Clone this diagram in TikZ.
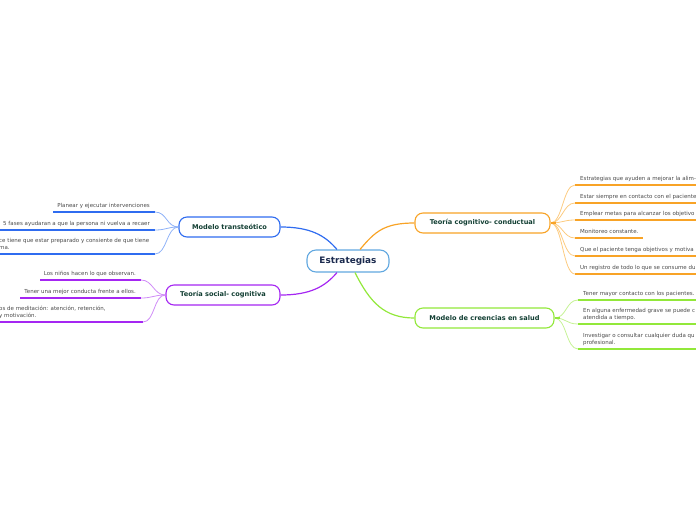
\documentclass[tikz,border=0pt]{standalone}
\usepackage{fontspec}
\setmainfont{DejaVu Sans}
\definecolor{cblue}{HTML}{2F6CF0}
\definecolor{cbluel}{HTML}{8FB2F7}
\definecolor{cpurp}{HTML}{A526F2}
\definecolor{cpurpl}{HTML}{D08CF7}
\definecolor{corng}{HTML}{F8A326}
\definecolor{corngl}{HTML}{FCCB80}
\definecolor{cgrn}{HTML}{92E83A}
\definecolor{cgrnl}{HTML}{C6F296}
\definecolor{cest}{HTML}{62A8E0}
\definecolor{nodetext}{HTML}{123F33}
\definecolor{esttext}{HTML}{1B2A4E}
\definecolor{leaftext}{HTML}{4A4A4A}
\begin{document}
\begin{tikzpicture}[x=1pt,y=-1pt,
  mainbox/.style={draw, rounded corners=8pt, line width=1.1pt, fill=white, inner sep=0pt,
    minimum height=20pt, font=\fontsize{6.6}{8}\selectfont\bfseries, text=nodetext},
  leaf/.style={inner xsep=5pt, inner ysep=2.3pt, font=\fontsize{5.5}{7}\selectfont,
    text=leaftext, execute at end node=\strut},
  mconn/.style={line width=1.2pt},
  lconn/.style={line width=0.8pt},
  uline/.style={line width=2pt}]
\useasboundingbox (0,0) rectangle (696,520);
\clip (0,0) rectangle (696,520);

% central and main nodes
\node[draw=cest, rounded corners=9pt, line width=1.1pt, fill=white, inner sep=0pt,
  minimum width=82pt, minimum height=22pt, font=\fontsize{8.9}{10}\selectfont\bfseries,
  text=esttext] (est) at (348,261) {Estrategias};
\node[mainbox, draw=cblue, minimum width=101pt] (mt) at (229.5,227) {Modelo transteótico};
\node[mainbox, draw=cpurp, minimum width=114pt] (tsc) at (223,295) {Teoría social- cognitiva};
\node[mainbox, draw=corng, minimum width=135pt] (tcc) at (482.5,223) {Teoría cognitivo- conductual};
\node[mainbox, draw=cgrn, minimum width=139pt] (mcs) at (484.5,318) {Modelo de creencias en salud};

% main connectors
\draw[mconn, cblue] ([xshift=-11pt]est.north) .. controls +(-12,-14) and +(30,0) .. (mt.east);
\draw[mconn, cpurp] ([xshift=-11pt]est.south) .. controls +(-12,14) and +(30,0) .. (tsc.east);
\draw[mconn, corng] ([xshift=12pt]est.north) .. controls +(15,-18) and +(-30,0) .. (tcc.west);
\draw[mconn, cgrn] ([xshift=7pt]est.south) .. controls +(15,30) and +(-30,0) .. (mcs.west);

% blue leaves
\node[leaf, anchor=south east] (b1) at (155,212) {Planear y ejecutar intervenciones};
\node[leaf, anchor=south east] (b2) at (155,230) {5 fases ayudaran a que la persona ni vuelva a recaer};
\node[leaf, anchor=south west, align=left] (b3) at (-6,254) {ce tiene que estar preparado y consiente de que tiene\\ma.};
\draw[uline, draw=cblue] (b1.south east) -- ([xshift=-102pt]b1.south east);
\draw[uline, draw=cblue] (b2.south east) -- ([xshift=-160pt]b2.south east);
\draw[uline, draw=cblue] (b3.south west) -- ([xshift=161pt]b3.south west);
\draw[lconn, draw=cbluel] (mt.west) .. controls +(-12,0) and +(12,0) .. (b1.south east);
\draw[lconn, draw=cbluel] (mt.west) .. controls +(-12,0) and +(12,0) .. (b2.south east);
\draw[lconn, draw=cbluel] (mt.west) .. controls +(-12,0) and +(12,0) .. ([xshift=161pt]b3.south west);

% purple leaves
\node[leaf, anchor=south east] (p1) at (141,280) {Los niños hacen lo que observan.};
\node[leaf, anchor=south east] (p2) at (141,298) {Tener una mejor conducta frente a ellos.};
\node[leaf, anchor=south west, align=left] (p3) at (-6,322) {os de meditación: atención, retención,\\y motivación.};
\draw[uline, draw=cpurp] (p1.south east) -- ([xshift=-101pt]p1.south east);
\draw[uline, draw=cpurp] (p2.south east) -- ([xshift=-121pt]p2.south east);
\draw[uline, draw=cpurp] (p3.south west) -- ([xshift=149pt]p3.south west);
\draw[lconn, draw=cpurpl] (tsc.west) .. controls +(-12,0) and +(12,0) .. (p1.south east);
\draw[lconn, draw=cpurpl] (tsc.west) .. controls +(-12,0) and +(12,0) .. (p2.south east);
\draw[lconn, draw=cpurpl] (tsc.west) .. controls +(-12,0) and +(12,0) .. ([xshift=149pt]p3.south west);

% orange leaves
\node[leaf, anchor=south west] (o1) at (575,185) {Estrategias que ayuden a mejorar la alim-};
\node[leaf, anchor=south west] (o2) at (575,203) {Estar siempre en contacto con el paciente};
\node[leaf, anchor=south west] (o3) at (575,220) {Emplear metas para alcanzar los objetivo};
\node[leaf, anchor=south west] (o4) at (575,238) {Monitoreo constante.};
\node[leaf, anchor=south west] (o5) at (575,256) {Que el paciente tenga objetivos y motiva};
\node[leaf, anchor=south west] (o6) at (575,274) {Un registro de todo lo que se consume du};
\foreach \n in {o1,o2,o3,o5,o6} {
  \draw[uline, draw=corng] (\n.south west) -- ([xshift=130pt]\n.south west);
  \draw[lconn, draw=corngl] (tcc.east) .. controls +(12,0) and +(-12,0) .. (\n.south west);
}
\draw[uline, draw=corng] (o4.south west) -- ([xshift=68pt]o4.south west);
\draw[lconn, draw=corngl] (tcc.east) .. controls +(12,0) and +(-12,0) .. (o4.south west);
\draw[line width=2pt, draw=corng] (tcc.east) -- ++(5,0);

% green leaves
\node[leaf, anchor=south west] (g1) at (578,300) {Tener mayor contacto con los pacientes.};
\node[leaf, anchor=south west, align=left] (g2) at (578,324) {En alguna enfermedad grave se puede c\\atendida a tiempo.};
\node[leaf, anchor=south west, align=left] (g3) at (578,349) {Investigar o consultar cualquier duda qu\\profesional.};
\foreach \n in {g1,g2,g3} {
  \draw[uline, draw=cgrn] (\n.south west) -- ([xshift=130pt]\n.south west);
  \draw[lconn, draw=cgrnl] (mcs.east) .. controls +(12,0) and +(-12,0) .. (\n.south west);
}
\draw[line width=2pt, draw=cgrn] (mcs.east) -- ++(5,0);
\end{tikzpicture}
\end{document}
